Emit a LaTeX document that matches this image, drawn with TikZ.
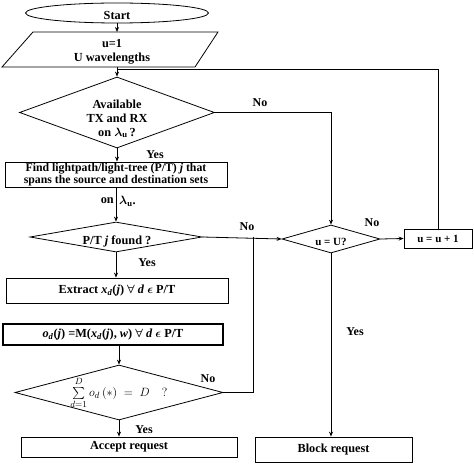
\documentclass[tikz,border=0pt]{standalone}
\usepackage{amsmath}
\usepackage{fontspec}
\setmainfont{Liberation Serif}
\usetikzlibrary{shapes.geometric,arrows.meta}
\newcommand{\vv}[1]{\textbf{\textit{#1}}}
\tikzset{
  lw/.style={line width=0.8pt},
  arr/.style={lw,-{Stealth[length=5pt,width=4pt]}},
  box/.style={draw,lw,rectangle,inner sep=0pt,font=\bfseries\fontsize{12.3}{10.5}\selectfont,align=center},
  dia/.style={draw,lw,diamond,inner sep=0pt},
  txt/.style={font=\bfseries\fontsize{12.3}{13.8}\selectfont,align=center,inner sep=0pt},
  lab/.style={font=\bfseries\fontsize{12}{12}\selectfont,inner sep=0pt}
}
\begin{document}
\begin{tikzpicture}[x=1pt,y=-1pt]
\useasboundingbox (0,0) rectangle (474,465);
% start
\node[draw,lw,ellipse,minimum width=183,minimum height=20,inner sep=0pt] (start) at (117,13) {};
\node[txt] (startt) at (117,15.5) {Start};
% parallelogram
\draw[lw] (33,32) -- (218,32) -- (195,67) -- (2,67) -- cycle;
\coordinate (parat-top) at (117,32);
\coordinate (parab) at (117,67);
\node[txt] (parat) at (112,52) {u=1\\U wavelengths};
% diamond 1
\node[dia,minimum width=195,minimum height=71] (d1) at (117,112.5) {};
\node[txt] (d1t) at (117,119) {Available\\TX and RX\\on $\boldsymbol{\lambda}_{\mathbf u}$\,?};
% find box
\node[box,font=\bfseries\fontsize{11.8}{10.5}\selectfont,minimum width=222,minimum height=25] (find) at (116,174.5) {Find lightpath/light-tree (P/T) \vv{j}\ that\\spans the source and destination sets};
\node[txt,anchor=east] (on) at (114,201) {on};
\node[txt,anchor=west] (lam) at (119,201) {$\boldsymbol{\lambda}_{\mathbf u}$.};
% diamond 2
\node[dia,minimum width=172,minimum height=30] (d2) at (116,237) {};
\node[txt] (d2t) at (117,241) {P/T \vv{j} found ?};
% extract
\node[box,minimum width=222,minimum height=25] (ext) at (117,290.5) {Extract \vv{x}\textsubscript{\vv{d}}(\vv{j}) $\boldsymbol\forall$ \vv{d} $\boldsymbol\epsilon$ P/T};
% od box
\node[box,line width=1.3pt,minimum width=220,minimum height=21] (od) at (113,334.5) {\vv{o}\textsubscript{\vv{d}}(\vv{j}) =M(\vv{x}\textsubscript{\vv{d}}(\vv{j}), \vv{w}) $\boldsymbol\forall$ \vv{d} $\boldsymbol\epsilon$ P/T};
% diamond 3
\node[dia,minimum width=208,minimum height=55] (d3) at (119,392.5) {};
\node[inner sep=0pt,font=\fontsize{12.3}{12}\selectfont] (d3t) at (119,393) {$\sum\limits_{d=1}^{D} o_d\,(*)\;=\;D\quad ?$};
% accept
\node[box,minimum width=216,minimum height=20] (acc) at (129,447) {Accept request};
% u = U?
\node[dia,minimum width=98,minimum height=28] (dU) at (331,239) {};
\node[txt,font=\bfseries\fontsize{11}{12}\selectfont] (dUt) at (331,242) {u = U?};
% u = u+1
\node[box,font=\bfseries\fontsize{11}{12}\selectfont,minimum width=68,minimum height=19] (up) at (438,238.5) {u = u + 1};
% block
\node[box,minimum width=157,minimum height=25] (blk) at (333.5,449.5) {Block request};
% connectors
\draw[arr] (start.south) -- (parat-top);
\draw[arr] (parab) -- (d1.north);
\coordinate (loopj) at (117,69);
\draw[lw] (up.north) -- (up.north |- loopj) -- (loopj);
\draw[arr] (d1.east) -| (dU.north);
\node[lab] (no1) at (260,103) {No};
\draw[arr] (d1.south) -- (d1.south |- find.north);
\node[lab] (yes1) at (155,155) {Yes};
\draw[arr] (find.south -| d2.north) -- (d2.north);
\draw[arr] (d2.east) -- (dU.west);
\node[lab] (no2) at (247,227) {No};
\draw[arr] (d2.south) -- (d2.south |- ext.north);
\node[lab] (yes2) at (147,263) {Yes};
\draw[arr] (od.south -| d3.north) -- (d3.north);
\coordinate (rj) at (253,237);
\draw[lw] (d3.east) -| (rj);
\node[lab] (no3) at (208,379) {No};
\draw[arr] (d3.south) -- (d3.south |- acc.north);
\node[lab] (yes3) at (144,430) {Yes};
\draw[arr] (dU.east) -- (up.west);
\node[lab] (no4) at (372,223) {No};
\draw[arr] (dU.south) -- (dU.south |- blk.north);
\node[lab] (yes4) at (355,332) {Yes};
\end{tikzpicture}
\end{document}
